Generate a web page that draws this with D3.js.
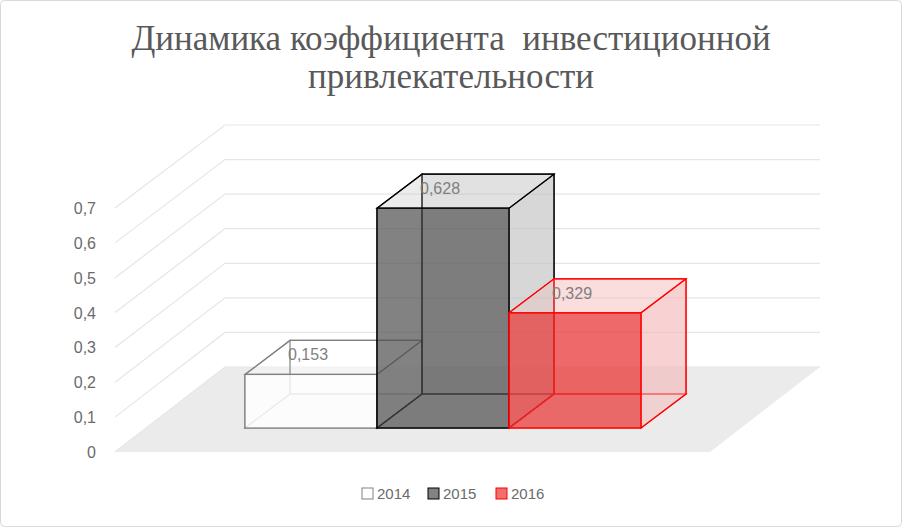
<!DOCTYPE html>
<html><head><meta charset="utf-8">
<script src="https://cdn.jsdelivr.net/npm/d3@7"></script>
<style>body{margin:0;background:#fff}</style>
</head><body>
<svg width="902" height="527"></svg>
<script>
const years = ['2014', '2015', '2016']
const values = [0.153, 0.628, 0.329]
const ticks = [0, 0.1, 0.2, 0.3, 0.4, 0.5, 0.6, 0.7]
const tickLabels = ['0', '0,1', '0,2', '0,3', '0,4', '0,5', '0,6', '0,7']
const labels = ['0,153', '0,628', '0,329']
const fills = ['#ffffff', '#4d4d4d', '#e83030']
const strokes = ['#808080', '#000000', '#ff0000']
const sideFills = ['#ffffff', '#bfbfbf', '#f4b8b8']

const svg = d3.select('svg')
svg.append('rect').attr('x', 0.5).attr('y', 0.5).attr('width', 901).attr('height', 526)
  .attr('rx', 4).attr('fill', '#fff').attr('stroke', '#d9d9d9')

// title
svg.append('text').attr('x', 451).attr('y', 50).attr('text-anchor', 'middle')
  .attr('font-family', 'Liberation Serif').attr('font-size', 35).attr('fill', '#595959')
  .attr('xml:space', 'preserve').text('Динамика коэффициента  инвестиционной')
svg.append('text').attr('x', 451).attr('y', 88).attr('text-anchor', 'middle')
  .attr('font-family', 'Liberation Serif').attr('font-size', 35).attr('fill', '#595959')
  .text('привлекательности')

// scales: front labels, back wall, bars
const yFront = d3.scaleLinear().domain([0, 0.7]).range([452, 208])
const yBack = d3.scaleLinear().domain([0, 0.7]).range([367, 125])
const yBar = d3.scaleLinear().domain([0, 1]).range([428, 78])
const x = d3.scaleBand().domain(years).range([245, 641])
const dx = 45, dy = -34

// floor
svg.append('polygon').attr('points', '115,452 710,452 820,367 225,367').attr('fill', '#ebebeb')

// grid
ticks.forEach((t, i) => {
  svg.append('polyline')
    .attr('points', `115,${yFront(t)} 225,${yBack(t)} 820,${yBack(t)}`)
    .attr('fill', 'none').attr('stroke', '#e6e6e6').attr('stroke-width', 1.2)
  svg.append('text').attr('x', 96).attr('y', yFront(t) + 6).attr('text-anchor', 'end')
    .attr('font-family', 'Liberation Sans').attr('font-size', 16).attr('fill', '#6b6b6b')
    .text(tickLabels[i])
})

const pts = a => a.map(p => p.join(',')).join(' ')
years.forEach((yr, i) => {
  const x0 = x(yr), x1 = x0 + x.bandwidth()
  const yb = yBar(0), yt = yBar(values[i])
  const g = svg.append('g').attr('stroke', strokes[i]).attr('stroke-width', 1.2)
  // back faces
  g.append('polygon').attr('points', pts([[x0 + dx, yb + dy], [x1 + dx, yb + dy], [x1 + dx, yt + dy], [x0 + dx, yt + dy]]))
    .attr('fill', sideFills[i]).attr('fill-opacity', 0.25)
  g.append('polygon').attr('points', pts([[x0, yb], [x0 + dx, yb + dy], [x0 + dx, yt + dy], [x0, yt]]))
    .attr('fill', 'none')
  g.append('polygon').attr('points', pts([[x0, yb], [x1, yb], [x1 + dx, yb + dy], [x0 + dx, yb + dy]]))
    .attr('fill', 'none')
  // right side and top
  g.append('polygon').attr('points', pts([[x1, yb], [x1 + dx, yb + dy], [x1 + dx, yt + dy], [x1, yt]]))
    .attr('fill', sideFills[i]).attr('fill-opacity', 0.5)
  g.append('polygon').attr('points', pts([[x0, yt], [x1, yt], [x1 + dx, yt + dy], [x0 + dx, yt + dy]]))
    .attr('fill', sideFills[i]).attr('fill-opacity', 0.3)
  // front
  g.append('rect').attr('x', x0).attr('y', yt).attr('width', x1 - x0).attr('height', yb - yt)
    .attr('fill', fills[i]).attr('fill-opacity', i === 0 ? 0.85 : 0.7)
  svg.append('text').attr('x', x0 + dx - 2).attr('y', yt + dy + 20)
    .attr('font-family', 'Liberation Sans').attr('font-size', 16).attr('fill', '#7f7f7f')
    .text(labels[i])
})

// legend
const legendX = [362, 428, 496]
years.forEach((yr, i) => {
  svg.append('rect').attr('x', legendX[i]).attr('y', 488).attr('width', 11).attr('height', 11)
    .attr('fill', fills[i]).attr('fill-opacity', i === 0 ? 1 : 0.7).attr('stroke', strokes[i])
  svg.append('text').attr('x', legendX[i] + 15).attr('y', 499)
    .attr('font-family', 'Liberation Sans').attr('font-size', 15).attr('fill', '#6b6b6b').text(yr)
})
</script>
</body></html>
